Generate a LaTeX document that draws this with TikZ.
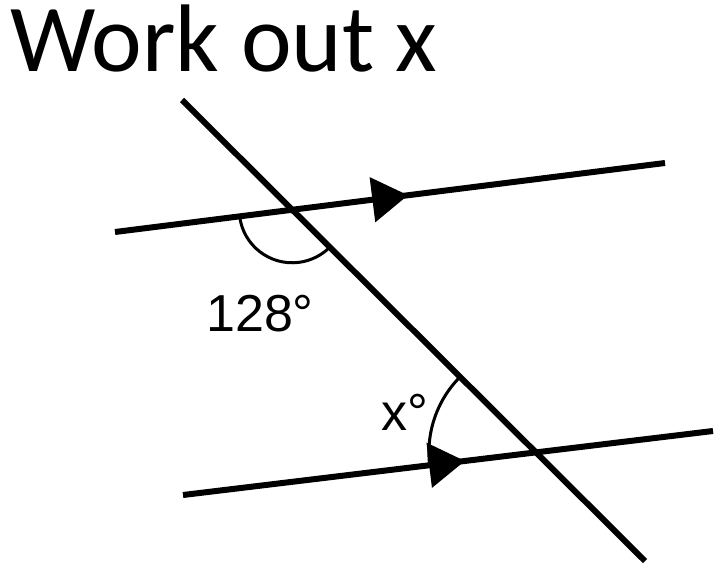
\documentclass[tikz,border=0pt]{standalone}
\usepackage{fontspec}
\setmainfont{Liberation Sans}
\newfontfamily\titlefont{Carlito}
\usetikzlibrary{arrows.meta,decorations.markings}
\begin{document}
\begin{tikzpicture}[x=1pt,y=1pt,
  thickline/.style={line width=6pt},
  arcline/.style={line width=3pt},
  midarrow/.style={decoration={markings,
      mark=at position #1 with {\arrow{Triangle[length=36pt,width=44pt]}}},
    postaction={decorate}},
  anglelabel/.style={anchor=base west,inner sep=0pt,font=\fontsize{52}{52}\selectfont}]
  \fill[white] (0,0) rectangle (727,573);
  \coordinate (A1) at (115,341);
  \coordinate (A2) at (665,410);
  \coordinate (B1) at (183,78);
  \coordinate (B2) at (713,142);
  \coordinate (T1) at (182,473);
  \coordinate (T2) at (645,12);
  \coordinate (P) at (intersection of A1--A2 and T1--T2);
  \coordinate (Q) at (intersection of B1--B2 and T1--T2);
  \node[anchor=base west,inner sep=0pt,font=\titlefont\fontsize{96}{96}\selectfont]
    (title) at (10,501) {Work out x};
  \draw[thickline,midarrow=0.533] (A1) -- (A2);
  \draw[thickline,midarrow=0.532] (B1) -- (B2);
  \draw[thickline] (T1) -- (T2);
  \draw[arcline] ([shift=(187.15:53)]P) arc[start angle=187.15,end angle=315.1,radius=53];
  \draw[arcline] ([shift=(135.1:107)]Q) arc[start angle=135.1,end angle=186.9,radius=107];
  \node[anglelabel] (obtuse) at (206,241) {128°};
  \node[anglelabel] (unknown) at (381,143) {x°};
\end{tikzpicture}
\end{document}
